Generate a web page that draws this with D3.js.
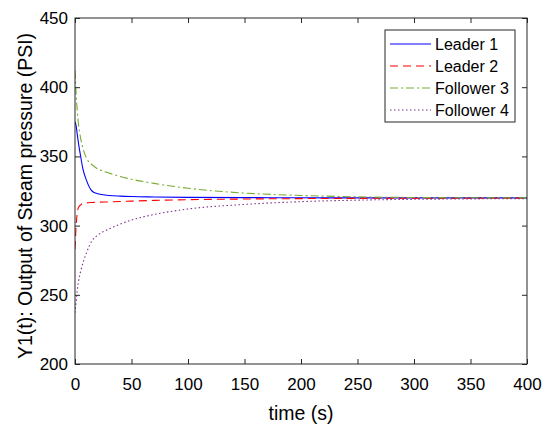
<!DOCTYPE html>
<html>
<head>
<meta charset="utf-8" />
<script src="https://cdn.jsdelivr.net/npm/d3@7"></script>
<style>
  body { margin: 0; background: #fff; }
  text { font-family: "Liberation Sans", Arial, Helvetica, sans-serif; }
</style>
</head>
<body>
<script>
    var width = 550;
    var height = 434;
    var margin = { top: 18, right: 23, bottom: 70, left: 75 };

    // sample times (s) and readings
    var times = [0, 1, 2, 3, 5, 7, 10, 15, 20, 30, 40, 50, 70, 100, 150, 200, 250, 300, 350, 400];
    var leader1 = [375, 372, 366, 360, 350, 341, 333, 325, 323, 321.8, 321.3, 321, 320.7, 320.4, 320.2, 320.1, 320, 320, 320, 320];
    var leader2 = [283, 300, 309, 313, 315, 316, 316.4, 316.7, 316.9, 317.1, 317.4, 317.7, 318.2, 318.7, 319.2, 319.5, 319.7, 319.8, 319.8, 319.9];
    var follower3 = [412, 395, 383, 374, 363, 356, 349, 344, 341, 338, 335.5, 333.5, 330.5, 327, 323.5, 321.8, 320.8, 320.3, 320.1, 320];
    var follower4 = [237, 245, 253, 259, 267, 273, 280, 289, 293, 297.5, 301, 304, 308, 312, 315.3, 317.3, 318.4, 319, 319.3, 319.5];
    var seriesNames = ['Leader 1', 'Leader 2', 'Follower 3', 'Follower 4'];
    var xTicks = [0, 50, 100, 150, 200, 250, 300, 350, 400];
    var yTicks = [200, 250, 300, 350, 400, 450];

    var styles = [
        { color: '#0000ff', dash: null },
        { color: '#ff0000', dash: '8,5' },
        { color: '#77ac30', dash: '8,3,2,3' },
        { color: '#7e2f8e', dash: '1.5,2.5' }
    ];

    var series = [leader1, leader2, follower3, follower4].map(function (vals, i) {
        return {
            name: seriesNames[i],
            points: times.map(function (t, j) { return [t, vals[j]]; })
        };
    });

    var iw = width - margin.left - margin.right;
    var ih = height - margin.top - margin.bottom;

    var x = d3.scaleLinear().domain([0, 400]).range([0, iw]);
    var y = d3.scaleLinear().domain([200, 450]).range([ih, 0]);

    var svg = d3.select('body')
        .append('svg')
        .attr('width', width)
        .attr('height', height);

    var g = svg.append('g')
        .attr('transform', 'translate(' + margin.left + ',' + margin.top + ')');

    svg.append('clipPath').attr('id', 'clip')
        .append('rect').attr('width', iw).attr('height', ih);

    var line = d3.line()
        .x(function (d) { return x(d[0]); })
        .y(function (d) { return y(d[1]); })
        .curve(d3.curveMonotoneX);

    g.append('g').attr('clip-path', 'url(#clip)')
        .selectAll('path')
        .data(series)
        .enter()
        .append('path')
        .attr('d', function (d) { return line(d.points); })
        .attr('fill', 'none')
        .attr('stroke', function (d, i) { return styles[i].color; })
        .attr('stroke-width', 1.1)
        .attr('stroke-dasharray', function (d, i) { return styles[i].dash; });

    // axes: ticks inward on all four sides
    function styleAxis(sel, showText) {
        sel.select('.domain').remove();
        sel.selectAll('line').attr('stroke', '#262626');
        sel.selectAll('text')
            .attr('font-size', 17)
            .attr('fill', '#000')
            .style('display', showText ? null : 'none');
    }

    g.append('g')
        .attr('transform', 'translate(0,' + ih + ')')
        .call(d3.axisBottom(x).tickValues(xTicks).tickSizeInner(-5).tickSizeOuter(0).tickPadding(14))
        .call(styleAxis, true);
    g.append('g')
        .call(d3.axisTop(x).tickValues(xTicks).tickSizeInner(-5).tickSizeOuter(0))
        .call(styleAxis, false);
    g.append('g')
        .call(d3.axisLeft(y).tickValues(yTicks).tickSizeInner(-5).tickSizeOuter(0).tickPadding(7))
        .call(styleAxis, true);
    g.append('g')
        .attr('transform', 'translate(' + iw + ',0)')
        .call(d3.axisRight(y).tickValues(yTicks).tickSizeInner(-5).tickSizeOuter(0))
        .call(styleAxis, false);

    g.append('rect')
        .attr('width', iw)
        .attr('height', ih)
        .attr('fill', 'none')
        .attr('stroke', '#262626')
        .attr('stroke-width', 1);

    svg.append('text')
        .attr('x', margin.left + iw / 2)
        .attr('y', 420)
        .attr('text-anchor', 'middle')
        .attr('font-size', 19.5)
        .text('time (s)');

    svg.append('text')
        .attr('transform', 'translate(32,196) rotate(-90)')
        .attr('text-anchor', 'middle')
        .attr('font-size', 19.5)
        .text('Y1(t): Output of Steam pressure (PSI)');

    // legend
    var lg = svg.append('g').attr('transform', 'translate(385,30)');
    lg.append('rect')
        .attr('width', 130)
        .attr('height', 92)
        .attr('fill', '#fff')
        .attr('stroke', '#262626');
    var items = lg.selectAll('g.item')
        .data(series)
        .enter()
        .append('g')
        .attr('class', 'item')
        .attr('transform', function (d, i) { return 'translate(0,' + (14 + i * 22) + ')'; });
    items.append('line')
        .attr('x1', 5).attr('x2', 46)
        .attr('stroke', function (d, i) { return styles[i].color; })
        .attr('stroke-width', 1.1)
        .attr('stroke-dasharray', function (d, i) { return styles[i].dash; });
    items.append('text')
        .attr('x', 50)
        .attr('dy', '0.35em')
        .attr('font-size', 16)
        .text(function (d) { return d.name; });
</script>
</body>
</html>
